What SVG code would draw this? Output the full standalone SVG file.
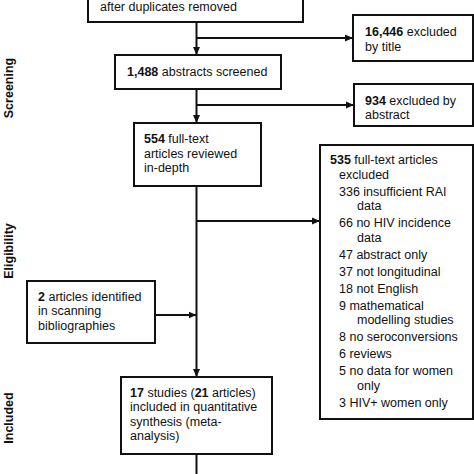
<svg xmlns="http://www.w3.org/2000/svg" width="474" height="474" viewBox="0 0 474 474">
<defs>
<style>
.box{fill:#fff;stroke:#111;stroke-width:2}
.ln{fill:none;stroke:#111;stroke-width:2}
text{font-family:"Liberation Sans",Arial,sans-serif;font-size:12.5px;fill:#111}
.b{font-weight:bold}
.side{font-weight:bold;font-size:12.5px;text-anchor:middle}
</style>
<marker id="ah" markerWidth="8" markerHeight="8" viewBox="0 0 8 8" refX="8" refY="4" orient="auto" markerUnits="userSpaceOnUse">
<path d="M0,0.5 L8,4 L0,7.5 Z" fill="#111"/>
</marker>
</defs>
<rect width="474" height="474" fill="#fff"/>
<g id="labels">
<text class="side" transform="translate(12.5,88) rotate(-90)">Screening</text>
<text class="side" transform="translate(12.5,251) rotate(-90)">Eligibility</text>
<text class="side" transform="translate(12.5,418) rotate(-90)">Included</text>
</g>
<g id="connectors">
<path class="ln" d="M196.5,22 V55" marker-end="url(#ah)"/>
<path class="ln" d="M196.5,38 H353" marker-end="url(#ah)"/>
<path class="ln" d="M196.5,89 V123" marker-end="url(#ah)"/>
<path class="ln" d="M196.5,105 H354" marker-end="url(#ah)"/>
<path class="ln" d="M196.5,186 V377" marker-end="url(#ah)"/>
<path class="ln" d="M196.5,221 H320" marker-end="url(#ah)"/>
<path class="ln" d="M155,315 H196.5" marker-end="url(#ah)"/>
<path class="ln" d="M196.5,454 V476"/>
</g>
<g id="n-records">
<rect class="box" x="88" y="-10" width="215" height="32"/>
<text x="100" y="11">after duplicates removed</text>
</g>
<g id="n-screened">
<rect class="box" x="115" y="55" width="166" height="34"/>
<text x="127" y="76"><tspan class="b">1,488</tspan> abstracts screened</text>
</g>
<g id="n-excl-title">
<rect class="box" x="353" y="15" width="120" height="46"/>
<text x="365" y="36"><tspan class="b">16,446</tspan> excluded</text>
<text x="365" y="50.5">by title</text>
</g>
<g id="n-excl-abstract">
<rect class="box" x="354" y="84" width="119" height="42"/>
<text x="365" y="104.5"><tspan class="b">934</tspan> excluded by</text>
<text x="365" y="119">abstract</text>
</g>
<g id="n-fulltext">
<rect class="box" x="134" y="123" width="127" height="63"/>
<text x="144" y="143"><tspan class="b">554</tspan> full-text</text>
<text x="144" y="157.5">articles reviewed</text>
<text x="144" y="172">in-depth</text>
</g>
<g id="n-excl-fulltext">
<rect class="box" x="320" y="145" width="153" height="274"/>
<text x="330" y="164"><tspan class="b">535</tspan> full-text articles</text>
<text x="339" y="178.5">excluded</text>
<text x="339" y="195.5">336 insufficient RAI</text>
<text x="357" y="210">data</text>
<text x="339" y="227">66 no HIV incidence</text>
<text x="357" y="241.5">data</text>
<text x="339" y="258.5">47 abstract only</text>
<text x="339" y="275.5">37 not longitudinal</text>
<text x="339" y="292.5">18 not English</text>
<text x="339" y="309.5">9 mathematical</text>
<text x="357" y="324">modelling studies</text>
<text x="339" y="341">8 no seroconversions</text>
<text x="339" y="358">6 reviews</text>
<text x="339" y="375">5 no data for women</text>
<text x="357" y="389.5">only</text>
<text x="339" y="406.5">3 HIV+ women only</text>
</g>
<g id="n-biblio">
<rect class="box" x="27" y="281" width="128" height="62"/>
<text x="38" y="300.5"><tspan class="b">2</tspan> articles identified</text>
<text x="38" y="315">in scanning</text>
<text x="38" y="329.5">bibliographies</text>
</g>
<g id="n-included">
<rect class="box" x="121" y="377" width="151" height="77"/>
<text x="130" y="396.5"><tspan class="b">17</tspan> studies (<tspan class="b">21</tspan> articles)</text>
<text x="130" y="411">included in quantitative</text>
<text x="130" y="425.5">synthesis (meta-</text>
<text x="130" y="440">analysis)</text>
</g>
</svg>
